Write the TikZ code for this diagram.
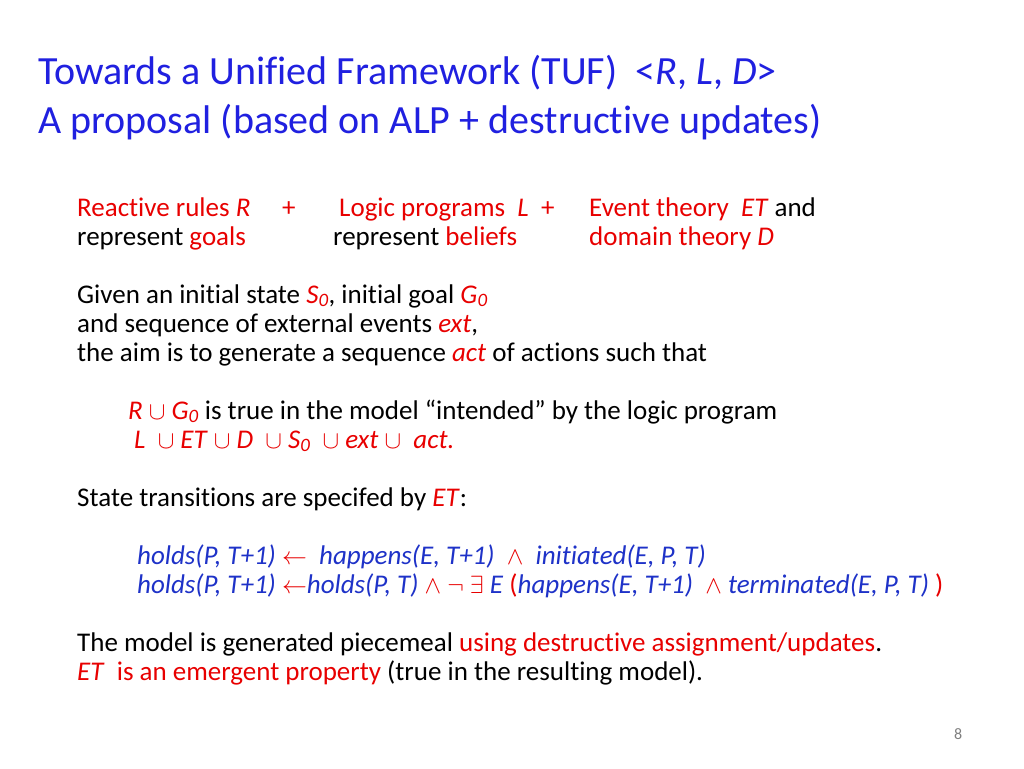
\documentclass[tikz,border=0pt]{standalone}
\usepackage{fontspec}
\setmainfont[Ligatures=NoCommon]{Carlito}
\definecolor{tblue}{RGB}{32,32,224}
\definecolor{fblue}{RGB}{30,50,200}
\definecolor{tred}{RGB}{232,0,0}
\newcommand{\R}[1]{\textcolor{tred}{#1}}
\newcommand{\B}[1]{\textcolor{fblue}{#1}}
\begin{document}
\begin{tikzpicture}[x=1pt,y=-1pt,
  t/.style={anchor=base west,inner sep=0pt,font=\fontsize{27}{31}\selectfont},
  ti/.style={anchor=base west,inner sep=0pt,font=\fontsize{40}{48}\selectfont,text=tblue}]
\useasboundingbox[fill=white] (0,0) rectangle (1024,768);
\node[ti] (t1) at (38,84) {Towards a Unified Framework (TUF)\ \ <\textit{R}, \textit{L}, \textit{D}>};
\node[ti] (t2) at (38,133) {A proposal (based on ALP + destructive updates)};
\node[t,text=tred] (a1) at (77,216) {Reactive rules \textit{R}};
\node[t,text=tred] (a2) at (282,216) {+};
\node[t,text=tred] (a3) at (339,216) {Logic programs\ \ \textit{L}\ \ +};
\node[t] (a4) at (589,216) {\R{Event theory\ \ \textit{ET}} and};
\node[t] (b1) at (77,245) {represent \R{goals}};
\node[t] (b2) at (333,245) {represent \R{beliefs}};
\node[t,text=tred] (b3) at (589,245) {domain theory \textit{D}};
\node[t] (c1) at (77,303) {Given an initial state \R{$\mathit{S_0}$}, initial goal \R{$\mathit{G_0}$}};
\node[t] (c2) at (77,332) {and sequence of external events \R{\textit{ext}},};
\node[t] (c3) at (77,361) {the aim is to generate a sequence \R{\textit{act}} of actions such that};
\node[t] (d1) at (128,419) {\R{\textit{R} $\cup$ \textit{G}$_{\mathit 0}$} is true in the model ``intended'' by the logic program};
\node[t,text=tred] (d2) at (134,448) {\textit{L}\ \ $\cup$ \textit{ET} $\cup$ \textit{D}\ \ $\cup$ \textit{S}$_{\mathit 0}$\ \ $\cup$ \textit{ext} $\cup$\ \ \textit{act.}};
\node[t] (e1) at (77,506) {State transitions are specifed by \R{\textit{ET}}:};
\node[t,text=fblue] (f1) at (137,564) {\textit{holds(P, T+1)} \R{$\leftarrow$}\ \ \textit{happens(E, T+1)}\ \ \R{$\wedge$}\ \ \textit{initiated(E, P, T)}};
\node[t,text=fblue] (f2) at (137,593) {\textit{holds(P, T+1)} \R{$\leftarrow$}\textit{holds(P, T)} \R{$\wedge$ $\neg$ $\exists$} \textit{E} \R{(}\textit{happens(E, T+1)}\ \ \R{$\wedge$} \textit{terminated(E, P, T)} \R{)}};
\node[t] (g1) at (77,651) {The model is generated piecemeal \R{using destructive assignment/updates}.};
\node[t] (g2) at (77,680) {\R{\textit{ET}\ \ is an emergent property} (true in the resulting model).};
\node[anchor=base west,inner sep=0pt,font=\fontsize{16}{18}\selectfont,text=gray] (pn) at (954,739) {8};
\end{tikzpicture}
\end{document}
